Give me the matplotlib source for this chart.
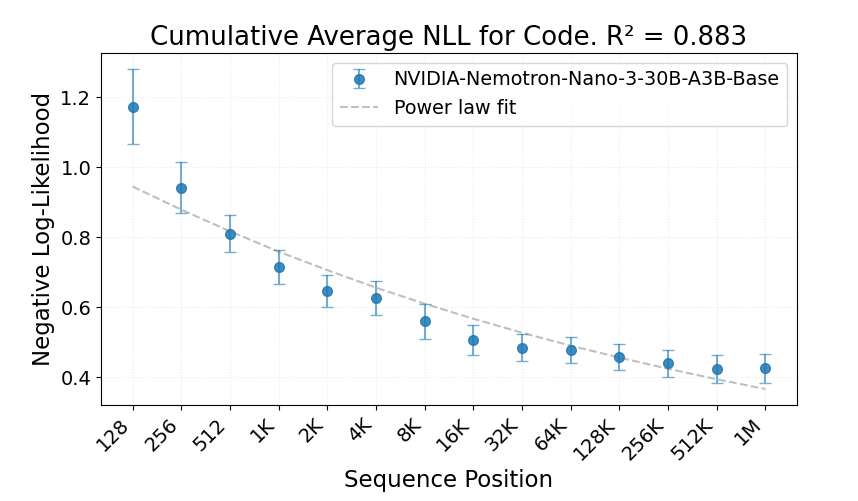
import matplotlib
matplotlib.use("Agg")
import matplotlib.pyplot as plt
import numpy as np

positions = ["128", "256", "512", "1K", "2K", "4K", "8K", "16K", "32K", "64K",
             "128K", "256K", "512K", "1M"]
nll_mean = [1.174, 0.942, 0.810, 0.715, 0.647, 0.626, 0.560, 0.505, 0.484, 0.477,
            0.458, 0.439, 0.422, 0.425]
nll_err = [0.107, 0.074, 0.053, 0.049, 0.045, 0.048, 0.050, 0.043, 0.039, 0.038,
           0.038, 0.040, 0.040, 0.041]
fit_vals = [0.945, 0.879, 0.817, 0.759, 0.706, 0.656, 0.610, 0.567, 0.527, 0.490,
            0.456, 0.424, 0.394, 0.366]
model_name = "NVIDIA-Nemotron-Nano-3-30B-A3B-Base"
r2 = 0.883

fig = plt.figure(figsize=(8.58, 5.01), dpi=100)
ax = fig.add_axes([0.1177, 0.1916, 0.8112, 0.7024])

x = np.arange(len(positions))
eb = ax.errorbar(x, nll_mean, yerr=nll_err, fmt='o', color='tab:blue',
                 capsize=4, markersize=7, label=model_name)
eb[0].set_alpha(0.85)
for c in eb[1]:
    c.set_alpha(0.6)
for c in eb[2]:
    c.set_alpha(0.6)
fit_line, = ax.plot(x, fit_vals, '--', color='gray', alpha=0.5, linewidth=1.5,
                    label='Power law fit')

ax.set_xticks(x)
ax.set_xticklabels(positions, rotation=45, ha='right', fontsize=14)
ax.tick_params(axis='y', labelsize=14)
ax.set_xlabel("Sequence Position", fontsize=16.5)
ax.set_ylabel("Negative Log-Likelihood", fontsize=16.5)
ax.set_title(f"Cumulative Average NLL for Code. R² = {r2}", fontsize=18.7)
ax.grid(True, linestyle=':', alpha=0.25)
ax.legend(handles=[eb, fit_line], fontsize=13.8)

fig.savefig("out.png", dpi=100)
